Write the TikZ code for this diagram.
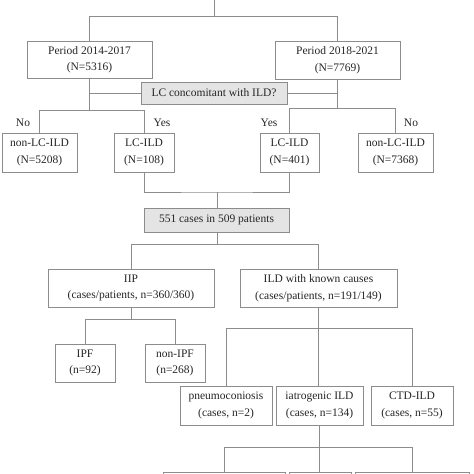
\documentclass[tikz,border=0pt]{standalone}
\usepackage{fontspec}
\setmainfont{Liberation Serif}
\definecolor{linegray}{HTML}{8C8C8C}
\definecolor{boxfill}{HTML}{E4E4E4}
\definecolor{txt}{HTML}{262626}
\begin{document}
\begin{tikzpicture}[x=1pt,y=-1pt,
    box/.style={draw=linegray, line width=1pt, fill=white, align=center, inner sep=0pt,
      text=txt, font=\fontsize{11.5}{16.5}\selectfont},
    greybox/.style={box, fill=boxfill},
    lbl/.style={text=txt, font=\fontsize{11.5}{14}\selectfont, inner sep=0pt},
    conn/.style={draw=linegray, line width=0.9pt}]
  \useasboundingbox (0,0) rectangle (474,474);
  \clip (0,0) rectangle (474,474);
  % two periods
  \node[box, minimum width=125, minimum height=37] (p1) at (89.5,59.5) {Period 2014-2017\\(N=5316)};
  \node[box, minimum width=125, minimum height=38] (p2) at (337.5,60) {Period 2018-2021\\(N=7769)};
  \node[greybox, minimum width=146, minimum height=22] (q) at (214,93) {LC concomitant with ILD?};
  % LC / non-LC split
  \node[box, minimum width=75, minimum height=39] (a1) at (39.5,152.5) {non-LC-ILD\\(N=5208)};
  \node[box, minimum width=60, minimum height=39] (a2) at (144,152.5) {LC-ILD\\(N=108)};
  \node[box, minimum width=59, minimum height=39] (a3) at (289.5,152.5) {LC-ILD\\(N=401)};
  \node[box, minimum width=75, minimum height=39] (a4) at (395.5,152.5) {non-LC-ILD\\(N=7368)};
  \node[lbl] (no1) at (23,123) {No};
  \node[lbl] (yes1) at (162,123) {Yes};
  \node[lbl] (yes2) at (269,123) {Yes};
  \node[lbl] (no2) at (411,123) {No};
  % pooled cases
  \node[greybox, minimum width=145, minimum height=24] (m) at (216.5,220) {551 cases in 509 patients};
  \node[box, minimum width=166, minimum height=38] (iip) at (131,288) {IIP\\(cases/patients, n=360/360)};
  \node[box, minimum width=157, minimum height=38] (ild) at (318.5,288) {ILD with known causes\\(cases/patients, n=191/149)};
  \node[box, minimum width=60, minimum height=38] (ipf) at (85,363) {IPF\\(n=92)};
  \node[box, minimum width=60, minimum height=38] (nipf) at (175,363) {non-IPF\\(n=268)};
  \node[box, minimum width=92, minimum height=39] (pn) at (226,405.5) {pneumoconiosis\\(cases, n=2)};
  \node[box, minimum width=87, minimum height=39] (iat) at (319.5,405.5) {iatrogenic ILD\\(cases, n=134)};
  \node[box, minimum width=82, minimum height=39] (ctd) at (412,405.5) {CTD-ILD\\(cases, n=55)};
  % boxes cut off at the bottom
  \node[box, minimum width=122, minimum height=40] (b1) at (224,492) {};
  \node[box, minimum width=62, minimum height=40] (b2) at (320,492) {};
  \node[box, minimum width=114, minimum height=40] (b3) at (412,492) {};
  % connectors
  \coordinate (top) at (214,0);
  \draw[conn] (top) -- (214,16) -| (p1.north);
  \draw[conn] (214,16) -| (p2.north);
  \draw[conn] (p1.south) -- (89.5,110) -| (a1.north);
  \draw[conn] (89.5,110) -| (a2.north);
  \draw[conn] (q.west) -- (89.5,93);
  \draw[conn] (p2.south) -- (337.5,108) -| (a3.north);
  \draw[conn] (337.5,108) -| (a4.north);
  \draw[conn] (q.east) -- (337.5,93);
  \draw[conn] (a2.south) |- (217,192) -| (a3.south);
  \draw[conn] (217,192) -- (m.north -| 217,0);
  \draw[conn] (m.south -| 217,0) -- (217,244) -| (iip.north);
  \draw[conn] (217,244) -| (ild.north);
  \draw[conn] (iip.south) -- (131,319) -| (ipf.north);
  \draw[conn] (131,319) -| (nipf.north);
  \draw[conn] (ild.south) -- (318.5,328) -| (pn.north);
  \draw[conn] (318.5,328) -- (iat.north -| 318.5,0);
  \draw[conn] (318.5,328) -| (ctd.north);
  \draw[conn] (iat.south -| 319,0) -- (319,447) -| (b1.north);
  \draw[conn] (319,447) -- (b2.north -| 319,0);
  \draw[conn] (319,447) -| (b3.north);
\end{tikzpicture}
\end{document}
